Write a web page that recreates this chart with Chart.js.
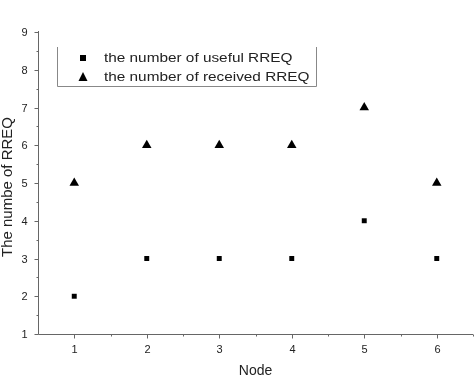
<!DOCTYPE html>
<html>
<head>
<meta charset="utf-8">
<script src="https://cdn.jsdelivr.net/npm/chart.js@4/dist/chart.umd.min.js"></script>
<style>
  html, body { margin: 0; padding: 0; background: #fff; }
  #wrap { width: 474px; height: 376px; position: relative; }
</style>
</head>
<body>
<div id="wrap"><canvas id="c" width="474" height="376"></canvas></div>
<script>
/* useful vs received RREQ per node */

const nodes = [1, 2, 3, 4, 5, 6];
const usefulRreq = [2, 3, 3, 3, 4, 3];
const receivedRreq = [5, 6, 6, 6, 7, 5];
const yTicks = [1, 2, 3, 4, 5, 6, 7, 8, 9];
const xTicks = [1, 2, 3, 4, 5, 6];
const seriesLabels = ['the number of useful RREQ', 'the number of received RREQ'];

const AXIS = '#666';
const FONT = '"Liberation Sans", Arial, sans-serif';

// axes, ticks, titles and legend box drawn on top of the library's scales
const framePlugin = {
    id: 'frame',
    afterDraw(chart) {
        const ctx = chart.ctx;
        const xs = chart.scales.x, ys = chart.scales.y;
        const a = chart.chartArea;
        const x0 = Math.round(a.left) + 0.5;
        const y0 = Math.round(a.bottom) + 0.5;
        ctx.save();
        ctx.strokeStyle = AXIS;
        ctx.lineWidth = 1;
        ctx.beginPath();
        ctx.moveTo(x0, Math.round(a.top) - 1);
        ctx.lineTo(x0, y0);
        ctx.lineTo(a.right, y0);
        ctx.stroke();

        // y ticks
        ctx.fillStyle = '#222';
        ctx.font = '11px ' + FONT;
        ctx.textAlign = 'right';
        ctx.textBaseline = 'middle';
        yTicks.forEach((v, i) => {
            const py = Math.round(ys.getPixelForValue(v)) + 0.5;
            ctx.beginPath();
            ctx.moveTo(x0 - 4, py); ctx.lineTo(x0, py); ctx.stroke();
            ctx.fillText(String(v), x0 - 11, py);
            if (i < yTicks.length - 1) {
                const pm = Math.round(ys.getPixelForValue(v + 0.5)) + 0.5;
                ctx.beginPath();
                ctx.moveTo(x0 - 2, pm); ctx.lineTo(x0, pm); ctx.stroke();
            }
        });

        // x ticks
        ctx.textAlign = 'center';
        ctx.textBaseline = 'middle';
        xTicks.forEach(v => {
            const px = Math.round(xs.getPixelForValue(v)) + 0.5;
            ctx.beginPath();
            ctx.moveTo(px, y0); ctx.lineTo(px, y0 + 4); ctx.stroke();
            ctx.fillText(String(v), px, y0 + 15);
            const pm = Math.round(xs.getPixelForValue(v + 0.5)) + 0.5;
            ctx.beginPath();
            ctx.moveTo(pm, y0); ctx.lineTo(pm, y0 + 2); ctx.stroke();
        });

        // axis titles
        ctx.font = '14px ' + FONT;
        ctx.fillStyle = '#222';
        ctx.fillText('Node', (a.left + a.right) / 2, y0 + 37);
        ctx.save();
        ctx.font = '15px ' + FONT;
        ctx.translate(12, 187);
        ctx.rotate(-Math.PI / 2);
        ctx.textAlign = 'center';
        ctx.textBaseline = 'alphabetic';
        ctx.fillText('The numbe of RREQ', 0, 0);
        ctx.restore();

        // legend box (top edge missing in the source)
        const lx = 57.5, rx = 316.5, ty = 47, by = 86.5;
        ctx.strokeStyle = '#888';
        ctx.beginPath();
        ctx.moveTo(lx, ty); ctx.lineTo(lx, by); ctx.lineTo(rx, by); ctx.lineTo(rx, ty);
        ctx.stroke();
        ctx.fillStyle = '#000';
        ctx.fillRect(80, 55, 6, 6);
        ctx.beginPath();
        ctx.moveTo(83, 72); ctx.lineTo(87.5, 81); ctx.lineTo(78.5, 81); ctx.closePath();
        ctx.fill();
        ctx.fillStyle = '#222';
        ctx.font = '13px ' + FONT;
        ctx.textAlign = 'left';
        ctx.textBaseline = 'middle';
        ctx.save();
        ctx.translate(104, 0);
        ctx.scale(1.18, 1);
        ctx.fillText(seriesLabels[0], 0, 58);
        ctx.fillText(seriesLabels[1], 0, 77);
        ctx.restore();
        ctx.restore();
    }
};

const ctx = document.getElementById('c').getContext('2d');
new Chart(ctx, {
    type: 'scatter',
    data: {
        datasets: [{
            label: seriesLabels[0],
            data: nodes.map((n, i) => ({ x: n, y: usefulRreq[i] })),
            pointStyle: 'rect',
            pointRadius: 3.5,
            backgroundColor: '#000',
            borderColor: '#000',
            borderWidth: 0
        }, {
            label: seriesLabels[1],
            data: nodes.map((n, i) => ({ x: n, y: receivedRreq[i] })),
            pointStyle: 'triangle',
            pointRadius: 5.5,
            backgroundColor: '#000',
            borderColor: '#000',
            borderWidth: 0
        }]
    },
    options: {
        responsive: false,
        animation: false,
        layout: { autoPadding: false, padding: { left: 38, top: 32, right: 1, bottom: 42 } },
        scales: {
            x: { type: 'linear', min: 0.5, max: 6.5, display: false },
            y: { type: 'linear', min: 1, max: 9, display: false }
        },
        plugins: {
            legend: { display: false },
            tooltip: { enabled: false }
        }
    },
    plugins: [framePlugin]
});
</script>
</body>
</html>
